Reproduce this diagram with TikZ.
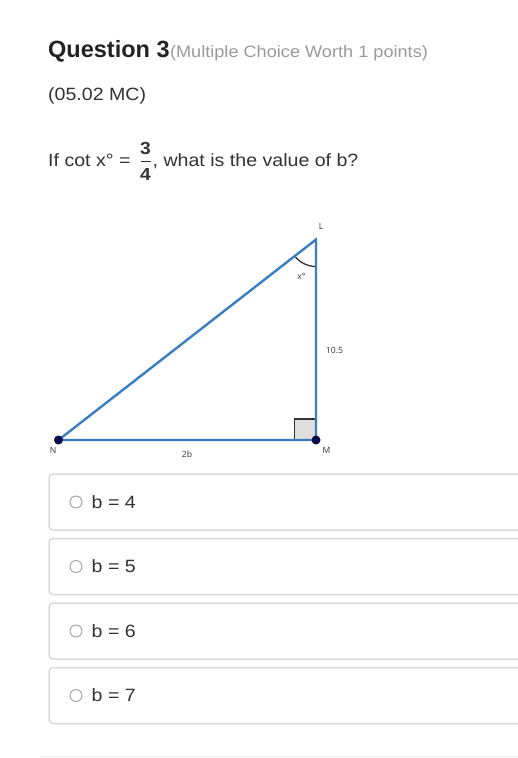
\documentclass[tikz,border=0pt]{standalone}
\usepackage{fontspec}
\setmainfont{Liberation Sans}[FakeStretch=1.1]
\newfontfamily\qfont{Liberation Sans}
\newfontfamily\labfont{Open Sans}
\definecolor{qdark}{HTML}{222222}
\definecolor{qgray}{HTML}{9A9A9A}
\definecolor{qtext}{HTML}{333333}
\definecolor{triblue}{HTML}{3B7DC1}
\definecolor{dotnavy}{HTML}{0C0C4E}
\definecolor{boxline}{HTML}{DADADA}
\definecolor{radiogray}{HTML}{A0A0A0}
\definecolor{sqfill}{HTML}{DEDEDE}
\tikzset{
  txt/.style={inner sep=0pt, anchor=base west, text=qtext, font=\fontsize{17.8}{20}\selectfont},
  lab/.style={inner sep=0pt, text=qtext, font=\labfont\fontsize{8.6}{10}\selectfont},
  optbox/.style={draw=boxline, line width=1.5pt, rounded corners=4pt, fill=white},
  radio/.style={circle, draw=radiogray, line width=0.9pt, minimum size=12pt, inner sep=0pt},
  side/.style={draw=triblue, line width=2.4pt},
  vdot/.style={circle, fill=dotnavy, minimum size=9pt, inner sep=0pt}
}
\begin{document}
\begin{tikzpicture}[x=1pt,y=-1pt]
\useasboundingbox[fill=white] (0,0) rectangle (518,758);
% header
\node[txt, text=qdark, font=\qfont\bfseries\fontsize{23.5}{26}\selectfont] (q) at (48,57) {Question 3};
\node[txt, text=qgray, font=\fontsize{16.5}{19}\selectfont] (qinfo) at (q.base east) {(Multiple Choice Worth 1 points)};
\node[txt] (code) at (48,100) {(05.02 MC)};
% question line
\node[txt] (ifcot) at (48,166) {If cot x° =};
\node[inner sep=0pt, text=qtext, font=\bfseries\fontsize{17.5}{20}\selectfont] (num) at (145.5,148.5) {3};
\node[inner sep=0pt, text=qtext, font=\bfseries\fontsize{17.5}{20}\selectfont] (den) at (145.5,174) {4};
\draw[qtext, line width=1pt] (140.5,161) coordinate (fb1) -- (150.5,161) coordinate (fb2);
\node[txt] (rest) at (152.5,166) {, what is the value of b?};
% triangle
\coordinate (N) at (58.5,440);
\coordinate (M) at (316,440);
\coordinate (L) at (316,239.5);
\fill[sqfill] (294.5,440) rectangle (316,419);
\draw[qtext, line width=1.3pt] (294.5,440) -- (294.5,419) -- (316,419);
\draw[qtext, line width=1.3pt] (L) ++(142.1:27) arc[start angle=142.1, end angle=90, radius=27];
\draw[side] (N) -- (M) -- (L) -- cycle;
\node[vdot] (Nd) at (N) {};
\node[vdot] (Md) at (M) {};
\node[lab] (Ll) at (321,226) {L};
\node[lab] (Nl) at (53,450.5) {N};
\node[lab] (Ml) at (326.5,450.5) {M};
\node[lab] (bl) at (187,454) {2b};
\node[lab] (hl) at (334.5,350) {10.5};
\node[lab] (xl) at (301.5,276.5) {x°};
% options
\foreach \i/\t/\v in {0/474/4,1/538.5/5,2/603/6,3/667.5/7}{
  \draw[optbox] (49,\t) rectangle (540,\t+56);
  \node[radio] (r\i) at (76,\t+28) {};
  \node[txt] (o\i) at (91.5,\t+34) {b = \v};
}
\draw[boxline!50, line width=1pt] (40,756.5) -- (518,756.5);
\end{tikzpicture}
\end{document}
